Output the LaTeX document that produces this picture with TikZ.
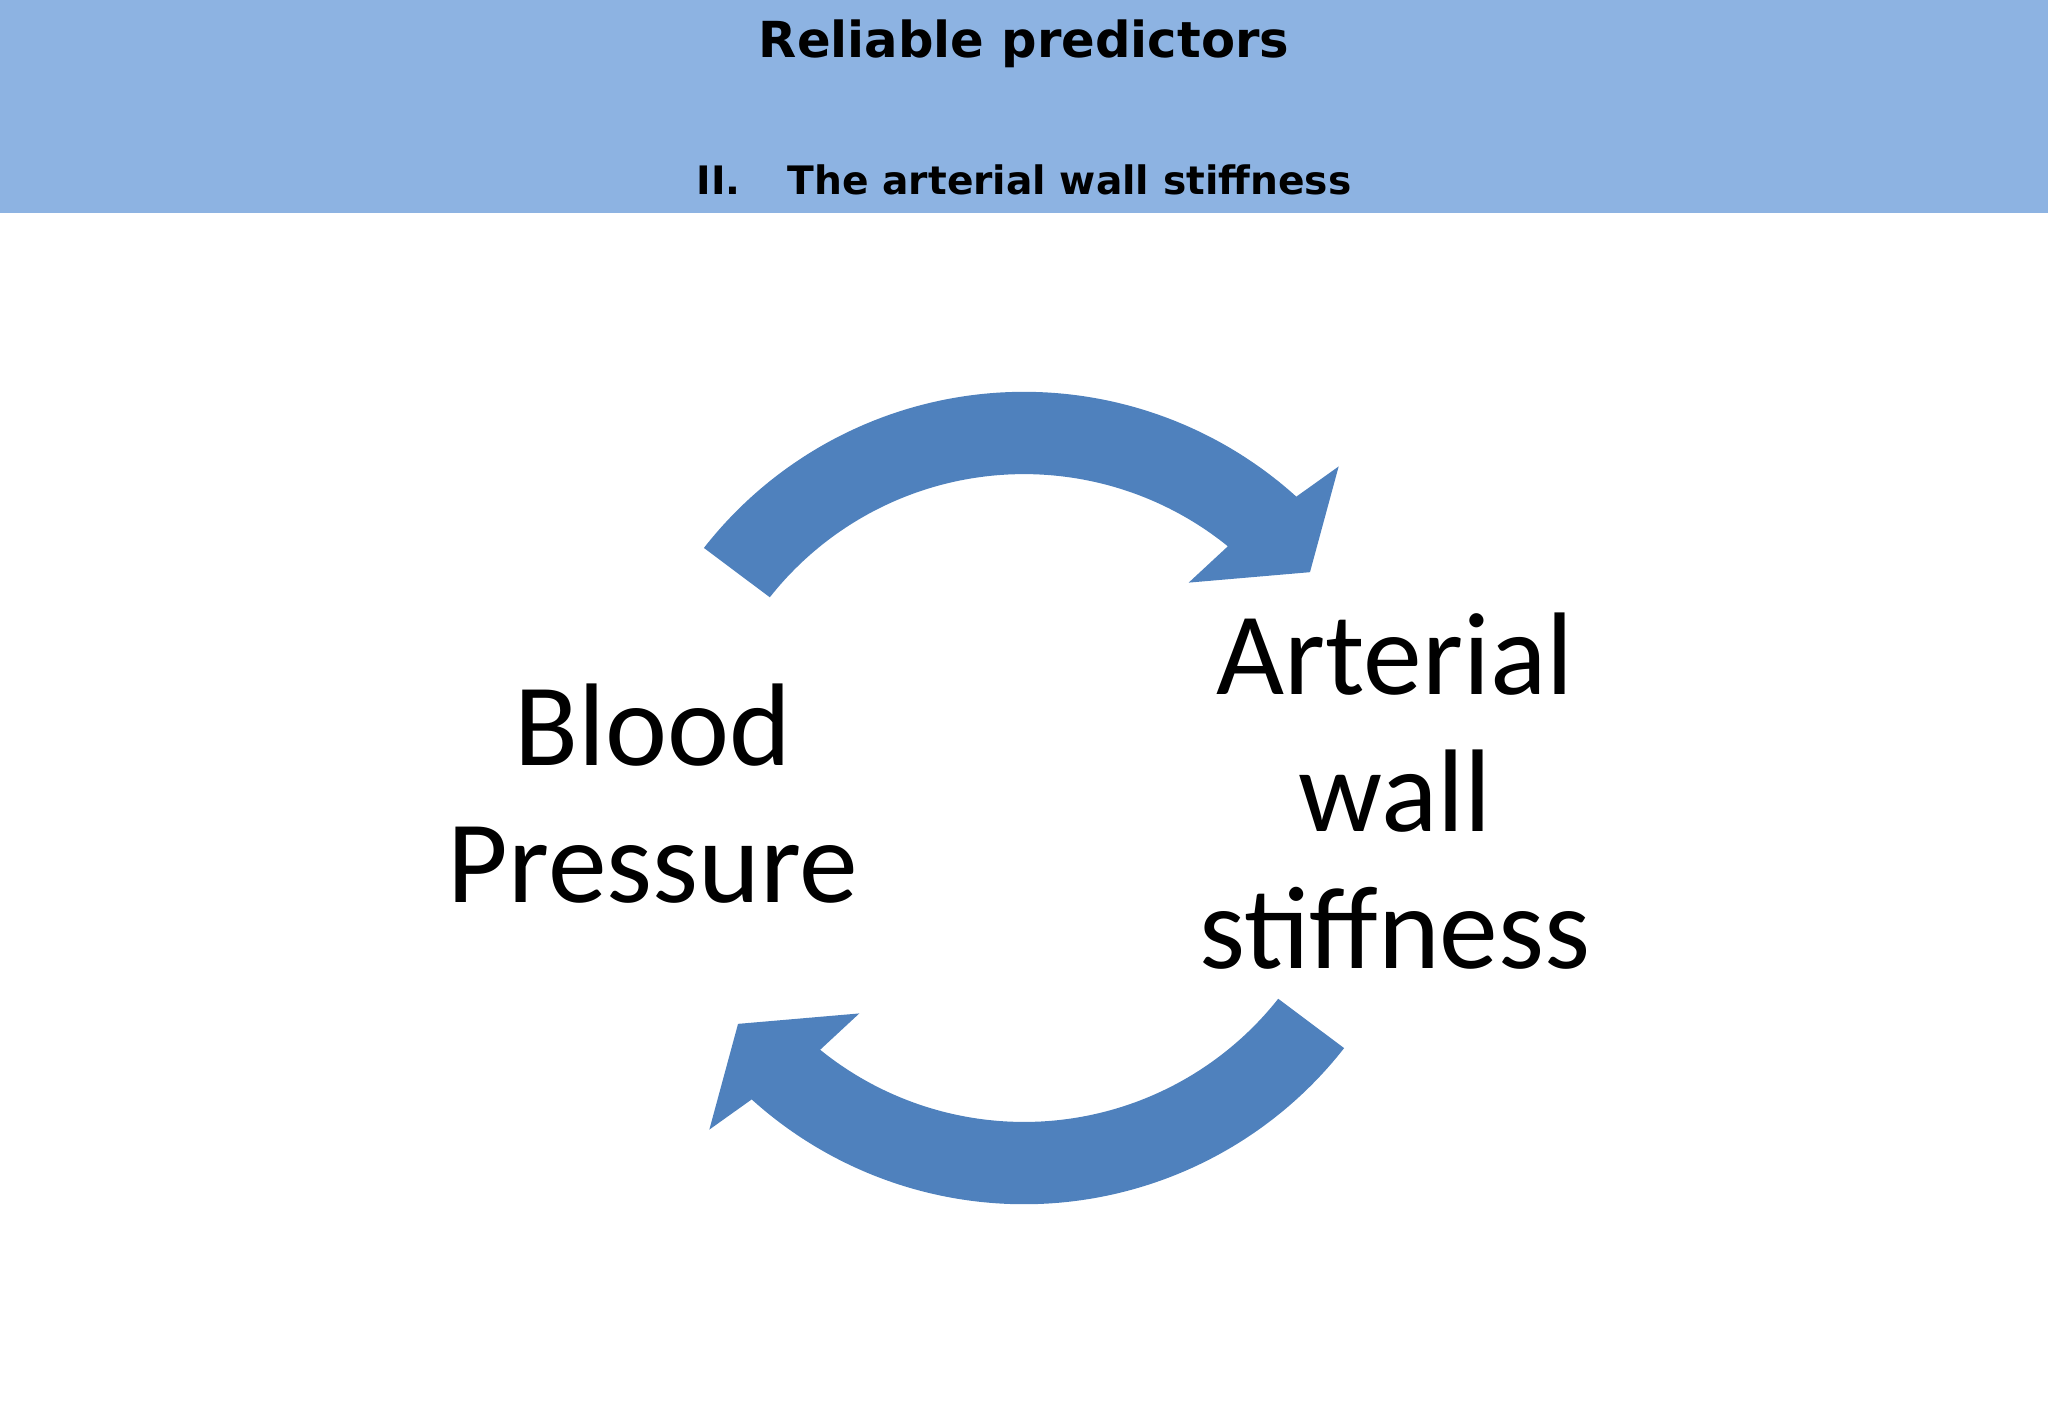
\documentclass[tikz,border=0pt]{standalone}
\usepackage{fontspec}
\setmainfont{Carlito}
\newfontfamily\hdr{DejaVu Sans}
\definecolor{band}{HTML}{8DB3E2}
\definecolor{arr}{HTML}{4F81BD}
\begin{document}
\begin{tikzpicture}[x=1pt,y=1pt,
  big/.style={align=center,font=\fontsize{90}{105}\selectfont},
  ring/.style={fill=arr,draw=none}]
\useasboundingbox (0,0) rectangle (1568,1085.6);
\fill[band] (0,922.6) rectangle (1568,1085.6);
\node[font=\hdr\bfseries\fontsize{38}{44}\selectfont] (t1) at (784,1052) {Reliable predictors};
\node[font=\hdr\bfseries\fontsize{30}{36}\selectfont] (t2) at (784,948) {II.\hspace{1.2em}The arterial wall stiffness};
\node[big] (bp) at (500,478) {Blood\\Pressure};
\node[big] (aw) at (1068,480) {Arterial\\wall\\stiffness};
\foreach \r in {0,180}{
\begin{scope}[shift={(784,474.6)},rotate=\r]
\path[ring] (142:311) arc (142:47.9:311) -- (46.5:350) -- (38.3:279) -- (52.6:207.6) -- (51:248) arc (51:141.7:248) -- cycle;
\end{scope}}
\end{tikzpicture}
\end{document}
